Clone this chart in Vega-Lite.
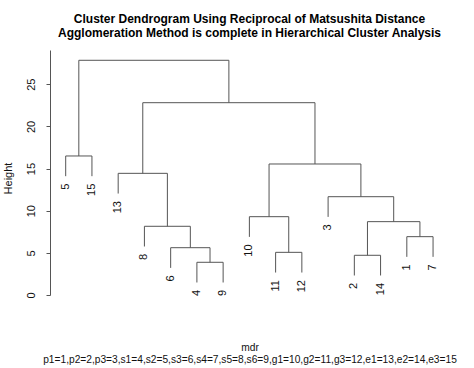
{
  "$schema": "https://vega.github.io/schema/vega-lite/v6.json",
  "width": 399,
  "height": 245,
  "autosize": "none",
  "padding": {"left": 50, "top": 50, "right": 25, "bottom": 73},
  "background": "white",
  "config": {
    "view": {"stroke": null},
    "font": "Liberation Sans"
  },
  "title": {
    "text": ["Cluster Dendrogram Using Reciprocal of Matsushita Distance", "Agglomeration Method is complete in Hierarchical Cluster Analysis"],
    "font": "Liberation Sans",
    "fontSize": 12,
    "fontWeight": "bold",
    "color": "#000000",
    "anchor": "middle",
    "frame": "group",
    "lineHeight": 13.5,
    "offset": 10.5
  },
  "datasets": {
    "segs": [
      {"x": 6, "x2": 7, "y": 3.88, "y2": 3.88},
      {"x": 6, "x2": 6, "y": 3.88, "y2": 1.484},
      {"x": 7, "x2": 7, "y": 3.88, "y2": 1.484},
      {"x": 12, "x2": 13, "y": 4.71, "y2": 4.71},
      {"x": 12, "x2": 12, "y": 4.71, "y2": 2.314},
      {"x": 13, "x2": 13, "y": 4.71, "y2": 2.314},
      {"x": 9, "x2": 10, "y": 5.06, "y2": 5.06},
      {"x": 9, "x2": 9, "y": 5.06, "y2": 2.664},
      {"x": 10, "x2": 10, "y": 5.06, "y2": 2.664},
      {"x": 5, "x2": 6.5, "y": 5.61, "y2": 5.61},
      {"x": 5, "x2": 5, "y": 5.61, "y2": 3.214},
      {"x": 6.5, "x2": 6.5, "y": 5.61, "y2": 3.88},
      {"x": 14, "x2": 15, "y": 6.92, "y2": 6.92},
      {"x": 14, "x2": 14, "y": 6.92, "y2": 4.524},
      {"x": 15, "x2": 15, "y": 6.92, "y2": 4.524},
      {"x": 4, "x2": 5.75, "y": 8.15, "y2": 8.15},
      {"x": 4, "x2": 4, "y": 8.15, "y2": 5.754},
      {"x": 5.75, "x2": 5.75, "y": 8.15, "y2": 5.61},
      {"x": 12.5, "x2": 14.5, "y": 8.70, "y2": 8.70},
      {"x": 12.5, "x2": 12.5, "y": 8.70, "y2": 4.71},
      {"x": 14.5, "x2": 14.5, "y": 8.70, "y2": 6.92},
      {"x": 8, "x2": 9.5, "y": 9.29, "y2": 9.29},
      {"x": 8, "x2": 8, "y": 9.29, "y2": 6.894},
      {"x": 9.5, "x2": 9.5, "y": 9.29, "y2": 5.06},
      {"x": 11, "x2": 13.5, "y": 11.66, "y2": 11.66},
      {"x": 11, "x2": 11, "y": 11.66, "y2": 9.264},
      {"x": 13.5, "x2": 13.5, "y": 11.66, "y2": 8.70},
      {"x": 3, "x2": 4.875, "y": 14.43, "y2": 14.43},
      {"x": 3, "x2": 3, "y": 14.43, "y2": 12.034},
      {"x": 4.875, "x2": 4.875, "y": 14.43, "y2": 8.15},
      {"x": 8.75, "x2": 12.25, "y": 15.54, "y2": 15.54},
      {"x": 8.75, "x2": 8.75, "y": 15.54, "y2": 9.29},
      {"x": 12.25, "x2": 12.25, "y": 15.54, "y2": 11.66},
      {"x": 1, "x2": 2, "y": 16.49, "y2": 16.49},
      {"x": 1, "x2": 1, "y": 16.49, "y2": 14.094},
      {"x": 2, "x2": 2, "y": 16.49, "y2": 14.094},
      {"x": 3.9375, "x2": 10.5, "y": 22.81, "y2": 22.81},
      {"x": 3.9375, "x2": 3.9375, "y": 22.81, "y2": 14.43},
      {"x": 10.5, "x2": 10.5, "y": 22.81, "y2": 15.54},
      {"x": 1.5, "x2": 7.21875, "y": 27.84, "y2": 27.84},
      {"x": 1.5, "x2": 1.5, "y": 27.84, "y2": 16.49},
      {"x": 7.21875, "x2": 7.21875, "y": 27.84, "y2": 22.81}
    ],
    "leaves": [
      {"label": "5", "pos": 1, "bottom": 14.094},
      {"label": "15", "pos": 2, "bottom": 14.094},
      {"label": "13", "pos": 3, "bottom": 12.034},
      {"label": "8", "pos": 4, "bottom": 5.754},
      {"label": "6", "pos": 5, "bottom": 3.214},
      {"label": "4", "pos": 6, "bottom": 1.484},
      {"label": "9", "pos": 7, "bottom": 1.484},
      {"label": "10", "pos": 8, "bottom": 6.894},
      {"label": "11", "pos": 9, "bottom": 2.664},
      {"label": "12", "pos": 10, "bottom": 2.664},
      {"label": "3", "pos": 11, "bottom": 9.264},
      {"label": "2", "pos": 12, "bottom": 2.314},
      {"label": "14", "pos": 13, "bottom": 2.314},
      {"label": "1", "pos": 14, "bottom": 4.524},
      {"label": "7", "pos": 15, "bottom": 4.524}
    ]
  },
  "layer": [
    {
      "data": {"name": "segs"},
      "mark": {"type": "rule", "stroke": "#555555", "strokeWidth": 1},
      "encoding": {
        "x": {
          "field": "x", "type": "quantitative",
          "scale": {"domain": [0.4017, 15.6077], "nice": false, "zero": false},
          "axis": {
            "title": ["mdr", "p1=1,p2=2,p3=3,s1=4,s2=5,s3=6,s4=7,s5=8,s6=9,g1=10,g2=11,g3=12,e1=13,e2=14,e3=15"],
            "labels": false, "ticks": false, "domain": false, "grid": false,
            "titleFont": "Liberation Sans", "titleFontSize": 10.2, "titleFontWeight": "normal",
            "titleColor": "#111111", "titleLineHeight": 12.5, "titlePadding": 47
          }
        },
        "x2": {"field": "x2"},
        "y": {
          "field": "y", "type": "quantitative",
          "scale": {"domain": [0, 29.06], "nice": false, "zero": false},
          "axis": {
            "title": "Height",
            "values": [0, 5, 10, 15, 20, 25],
            "grid": false,
            "domainColor": "#555555", "tickColor": "#555555",
            "tickSize": 4,
            "labelAngle": 270, "labelAlign": "center", "labelBaseline": "bottom",
            "labelPadding": 10, "labelFontSize": 11, "labelColor": "#111111",
            "labelFont": "Liberation Sans",
            "titleFont": "Liberation Sans", "titleFontSize": 11, "titleFontWeight": "normal",
            "titleColor": "#111111",
            "titleX": -42, "titleY": 128, "titleAngle": 270, "titleBaseline": "middle", "titleAlign": "center"
          }
        },
        "y2": {"field": "y2"}
      }
    },
    {
      "data": {"name": "leaves"},
      "mark": {"type": "text", "angle": 270, "align": "right", "baseline": "middle", "dx": -7.5, "fontSize": 11, "font": "Liberation Sans", "color": "#111111"},
      "encoding": {
        "x": {"field": "pos", "type": "quantitative"},
        "y": {"field": "bottom", "type": "quantitative"},
        "text": {"field": "label", "type": "nominal"}
      }
    }
  ]
}
